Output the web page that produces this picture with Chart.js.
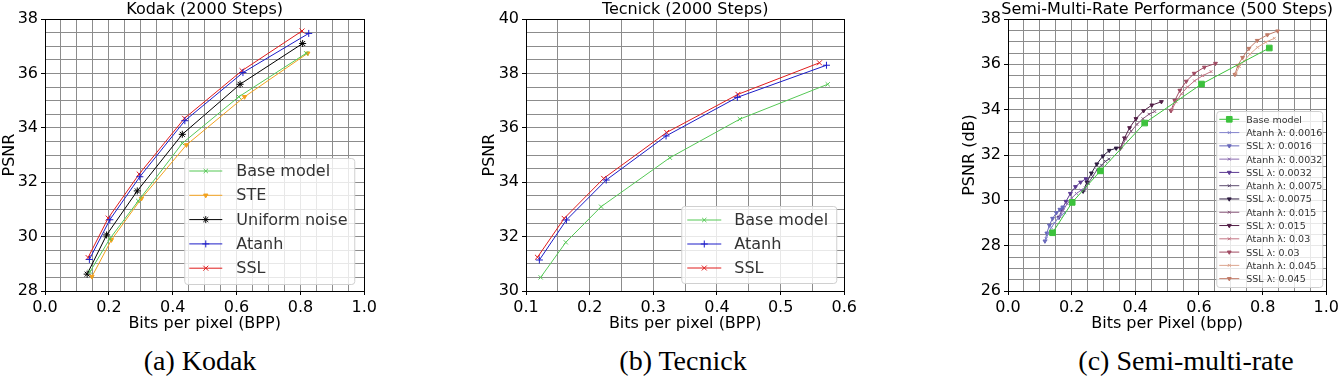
<!DOCTYPE html>
<html>
<head>
<meta charset="utf-8">
<script src="https://cdn.jsdelivr.net/npm/chart.js@4.4.1/dist/chart.umd.min.js"></script>
<style>
  body { margin: 0; width: 1342px; height: 382px; background: #fff; position: relative; overflow: hidden; }
  canvas { position: absolute; top: 0; }
  .cap { position: absolute; top: 344px; font-family: "Liberation Serif", serif; font-size: 28px; line-height: 34px; color: #000; white-space: nowrap; transform: translateX(-50%); }
</style>
</head>
<body>
<canvas id="c1" width="380" height="336" style="left:0px"></canvas>
<canvas id="c2" width="380" height="336" style="left:480px"></canvas>
<canvas id="c3" width="382" height="336" style="left:960px"></canvas>
<div class="cap" style="left:200px">(a) Kodak</div>
<div class="cap" style="left:683px">(b) Tecnick</div>
<div class="cap" style="left:1186px">(c) Semi-multi-rate</div>
<script>
// ---- Kodak (2000 steps) ----
const kodakBaseBpp = [0.141, 0.203, 0.292, 0.430, 0.607, 0.818];
const kodakBasePsnr = [28.71, 29.92, 31.31, 33.43, 35.14, 36.74];
const kodakSteBpp = [0.147, 0.208, 0.302, 0.443, 0.625, 0.823];
const kodakStePsnr = [28.53, 29.88, 31.40, 33.37, 35.14, 36.74];
const kodakNoiseBpp = [0.132, 0.193, 0.289, 0.430, 0.611, 0.807];
const kodakNoisePsnr = [28.62, 30.06, 31.68, 33.76, 35.60, 37.10];
const kodakAtanhBpp = [0.139, 0.203, 0.297, 0.438, 0.620, 0.826];
const kodakAtanhPsnr = [29.16, 30.62, 32.20, 34.26, 36.03, 37.47];
const kodakSslBpp = [0.135, 0.198, 0.295, 0.437, 0.617, 0.805];
const kodakSslPsnr = [29.23, 30.68, 32.30, 34.35, 36.10, 37.56];

// ---- Tecnick (2000 steps) ----
const tecBaseBpp = [0.123, 0.1625, 0.218, 0.326, 0.436, 0.574];
const tecBasePsnr = [30.50, 31.79, 33.10, 34.90, 36.32, 37.60];
const tecAtanhBpp = [0.121, 0.1635, 0.226, 0.320, 0.432, 0.572];
const tecAtanhPsnr = [31.14, 32.61, 34.08, 35.70, 37.12, 38.30];
const tecSslBpp = [0.118, 0.160, 0.222, 0.321, 0.433, 0.561];
const tecSslPsnr = [31.24, 32.67, 34.14, 35.83, 37.23, 38.39];

// ---- Semi-multi-rate (500 steps) ----
const semiBaseBpp = [0.140, 0.2017, 0.2905, 0.4295, 0.608, 0.821];
const semiBasePsnr = [28.57, 29.91, 31.30, 33.41, 35.13, 36.72];
const lambdas = ['0.0016', '0.0032', '0.0075', '0.015', '0.03', '0.045'];
const atanhBpp = [
  [0.120, 0.127, 0.136, 0.146, 0.157, 0.168, 0.178],
  [0.163, 0.173, 0.186, 0.200, 0.215, 0.230, 0.243],
  [0.240, 0.252, 0.266, 0.280, 0.294, 0.306, 0.317],
  [0.356, 0.370, 0.387, 0.405, 0.424, 0.443, 0.461],
  [0.515, 0.528, 0.545, 0.564, 0.586, 0.612, 0.638],
  [0.716, 0.727, 0.742, 0.760, 0.784, 0.810, 0.837]
];
const atanhPsnr = [
  [28.30, 28.55, 28.80, 29.00, 29.20, 29.35, 29.45],
  [29.30, 29.55, 29.85, 30.10, 30.30, 30.45, 30.55],
  [30.45, 30.75, 31.05, 31.35, 31.55, 31.72, 31.82],
  [32.35, 32.70, 33.05, 33.35, 33.60, 33.80, 33.92],
  [34.00, 34.35, 34.70, 35.00, 35.27, 35.50, 35.68],
  [35.60, 35.90, 36.15, 36.45, 36.75, 36.98, 37.15]
];
const sslBpp = [
  [0.116, 0.122, 0.130, 0.140, 0.152, 0.163, 0.172],
  [0.160, 0.170, 0.182, 0.196, 0.212, 0.228, 0.245],
  [0.236, 0.248, 0.262, 0.279, 0.298, 0.318, 0.340],
  [0.353, 0.366, 0.382, 0.402, 0.426, 0.452, 0.482],
  [0.512, 0.524, 0.540, 0.560, 0.585, 0.617, 0.652],
  [0.713, 0.722, 0.737, 0.757, 0.783, 0.815, 0.847]
];
const sslPsnr = [
  [28.20, 28.55, 28.90, 29.20, 29.45, 29.60, 29.70],
  [29.25, 29.60, 29.95, 30.30, 30.60, 30.80, 30.95],
  [30.40, 30.80, 31.20, 31.60, 31.95, 32.20, 32.30],
  [32.30, 32.75, 33.20, 33.60, 33.95, 34.20, 34.35],
  [33.95, 34.40, 34.85, 35.25, 35.60, 35.87, 36.04],
  [35.55, 35.95, 36.30, 36.70, 37.05, 37.30, 37.47]
];
const atanhColors = ['#8484cc', '#8a6aae', '#5c4a6e', '#8a5a7c', '#c27282', '#dca48e'];
const sslColors = ['#6868bb', '#5c3a92', '#2e1c40', '#521e46', '#a04a62', '#c07a66'];

const FONT = 'DejaVu Sans';
Chart.defaults.font.family = FONT;
Chart.defaults.color = '#000';

function pts(xs, ys) { return xs.map((x, i) => ({ x: x, y: ys[i] })); }
function isMajor(v, step) { const r = v / step; return Math.abs(r - Math.round(r)) < 1e-6; }

function line(label, xs, ys, color, style, radius, extra) {
  return Object.assign({
    label: label, data: pts(xs, ys), showLine: true,
    borderColor: color, backgroundColor: color,
    pointBorderColor: color, pointBackgroundColor: color,
    borderWidth: 1, pointStyle: style, pointRadius: radius, pointBorderWidth: 1,
    pointHoverRadius: radius
  }, extra || {});
}

const framePlugin = {
  id: 'frame',
  afterDatasetsDraw(chart) {
    const a = chart.chartArea, ctx = chart.ctx;
    ctx.save();
    ctx.strokeStyle = '#000'; ctx.lineWidth = 1;
    ctx.strokeRect(Math.round(a.left) + 0.5, Math.round(a.top) + 0.5,
      Math.round(a.right - a.left), Math.round(a.bottom - a.top));
    ctx.restore();
  }
};

const titlePlugin = {
  id: 'topTitle',
  afterDraw(chart, args, o) {
    const a = chart.chartArea, ctx = chart.ctx;
    ctx.save();
    ctx.font = '16px "' + FONT + '"';
    ctx.fillStyle = '#000'; ctx.textAlign = 'center'; ctx.textBaseline = 'middle';
    ctx.fillText(o.text, (a.left + a.right) / 2, o.y);
    ctx.restore();
  }
};

const legendPlugin = {
  id: 'boxLegend',
  afterDraw(chart, args, o) {
    const a = chart.chartArea, ctx = chart.ctx;
    const x0 = a.right - o.right - o.width, y0 = a.bottom - o.bottom - o.height;
    ctx.save();
    ctx.beginPath();
    ctx.roundRect(x0 + 0.5, y0 + 0.5, o.width, o.height, 3);
    ctx.fillStyle = 'rgba(255,255,255,0.8)'; ctx.fill();
    ctx.strokeStyle = '#d0d0d0'; ctx.lineWidth = 1; ctx.stroke();
    ctx.font = o.fontSize + 'px "' + FONT + '"';
    ctx.textBaseline = 'middle'; ctx.textAlign = 'left';
    chart.data.datasets.forEach((ds, i) => {
      const y = y0 + o.first + i * o.step;
      ctx.strokeStyle = ds.borderColor; ctx.lineWidth = 1;
      ctx.beginPath(); ctx.moveTo(x0 + o.lx0, y); ctx.lineTo(x0 + o.lx1, y); ctx.stroke();
      ctx.fillStyle = ds.pointBackgroundColor;
      Chart.helpers.drawPoint(ctx, {
        pointStyle: ds.pointStyle, radius: ds.pointRadius,
        rotation: ds.pointRotation || 0, borderWidth: 1
      }, x0 + (o.lx0 + o.lx1) / 2, y);
      ctx.fillStyle = '#333';
      ctx.fillText(ds.label, x0 + o.tx, y + 1);
    });
    ctx.restore();
  }
};

function axis(min, max, step, major, digits, size, title, titlePad) {
  return {
    type: 'linear', min: min, max: max,
    afterFit: s => { if (s.isHorizontal()) s.height = size; else s.width = size; },
    ticks: {
      stepSize: step, autoSkip: false, maxRotation: 0, padding: 3,
      font: { size: 16 }, color: '#000',
      callback: v => isMajor(v, major) ? v.toFixed(digits) : ''
    },
    grid: {
      color: '#8c8c8c', lineWidth: 1, tickLength: 4,
      tickColor: c => (c.tick && isMajor(c.tick.value, major)) ? '#000' : 'rgba(0,0,0,0)'
    },
    border: { display: false },
    title: { display: true, text: title, font: { size: 16 }, color: '#000', padding: titlePad }
  };
}

function makeChart(id, datasets, xs, ys, pad, titleText, legend) {
  new Chart(document.getElementById(id), {
    type: 'scatter',
    data: { datasets: datasets },
    options: {
      responsive: false, animation: false, devicePixelRatio: 1,
      layout: { padding: pad },
      scales: { x: xs, y: ys },
      plugins: {
        legend: { display: false }, tooltip: { enabled: false },
        topTitle: { text: titleText, y: 10 },
        boxLegend: legend
      }
    },
    plugins: [framePlugin, titlePlugin, legendPlugin]
  });
}

// Kodak
makeChart('c1', [
  line('Base model', kodakBaseBpp, kodakBasePsnr, '#55c855', 'crossRot', 3),
  line('STE', kodakSteBpp, kodakStePsnr, '#f2a21e', 'triangle', 2.5, { pointRotation: 180 }),
  line('Uniform noise', kodakNoiseBpp, kodakNoisePsnr, '#000000', 'star', 3.5),
  line('Atanh', kodakAtanhBpp, kodakAtanhPsnr, '#1c1cc8', 'cross', 3.5),
  line('SSL', kodakSslBpp, kodakSslPsnr, '#e01c1c', 'crossRot', 3.5)
],
  axis(0, 1, 0.05, 0.2, 1, 45, 'Bits per pixel (BPP)', { top: 0, bottom: 3 }),
  axis(28, 38, 0.5, 2, 0, 45, 'PSNR', { top: 0, bottom: 0 }),
  { left: 0, top: 19, right: 15, bottom: 0 }, 'Kodak (2000 Steps)',
  { width: 170, height: 126, right: 10, bottom: 7, first: 13, step: 24.3, lx0: 5, lx1: 38, tx: 52, fontSize: 16 });

// Tecnick
makeChart('c2', [
  line('Base model', tecBaseBpp, tecBasePsnr, '#55c855', 'crossRot', 3),
  line('Atanh', tecAtanhBpp, tecAtanhPsnr, '#1c1cc8', 'cross', 3.5),
  line('SSL', tecSslBpp, tecSslPsnr, '#e01c1c', 'crossRot', 3.5)
],
  axis(0.1, 0.6, 0.05, 0.1, 1, 45, 'Bits per pixel (BPP)', { top: 0, bottom: 3 }),
  axis(30, 40, 0.5, 2, 0, 46, 'PSNR', { top: 0, bottom: 0 }),
  { left: 0, top: 19, right: 14, bottom: 0 }, 'Tecnick (2000 Steps)',
  { width: 155, height: 77, right: 8, bottom: 8, first: 14, step: 24, lx0: 6, lx1: 40, tx: 53, fontSize: 16 });

// Semi-multi-rate
const semiSets = [line('Base model', semiBaseBpp, semiBasePsnr, '#3cc23c', 'rect', 4)];
lambdas.forEach((lam, k) => {
  semiSets.push(line('Atanh \u03bb: ' + lam, atanhBpp[k], atanhPsnr[k], atanhColors[k], 'crossRot', 2));
  semiSets.push(line('SSL \u03bb: ' + lam, sslBpp[k], sslPsnr[k], sslColors[k], 'triangle', 2.2, { pointRotation: 180 }));
});
makeChart('c3', semiSets,
  axis(0, 1, 0.05, 0.2, 1, 45, 'Bits per Pixel (bpp)', { top: 0, bottom: 3 }),
  axis(26, 38, 0.5, 2, 0, 48, 'PSNR (dB)', { top: 0, bottom: 0 }),
  { left: 0, top: 19, right: 15, bottom: 0 }, 'Semi-Multi-Rate Performance (500 Steps)',
  { width: 106, height: 176, right: 4, bottom: 4, first: 8.3, step: 13.28, lx0: 3, lx1: 23, tx: 30, fontSize: 9.5 });
</script>
</body>
</html>
